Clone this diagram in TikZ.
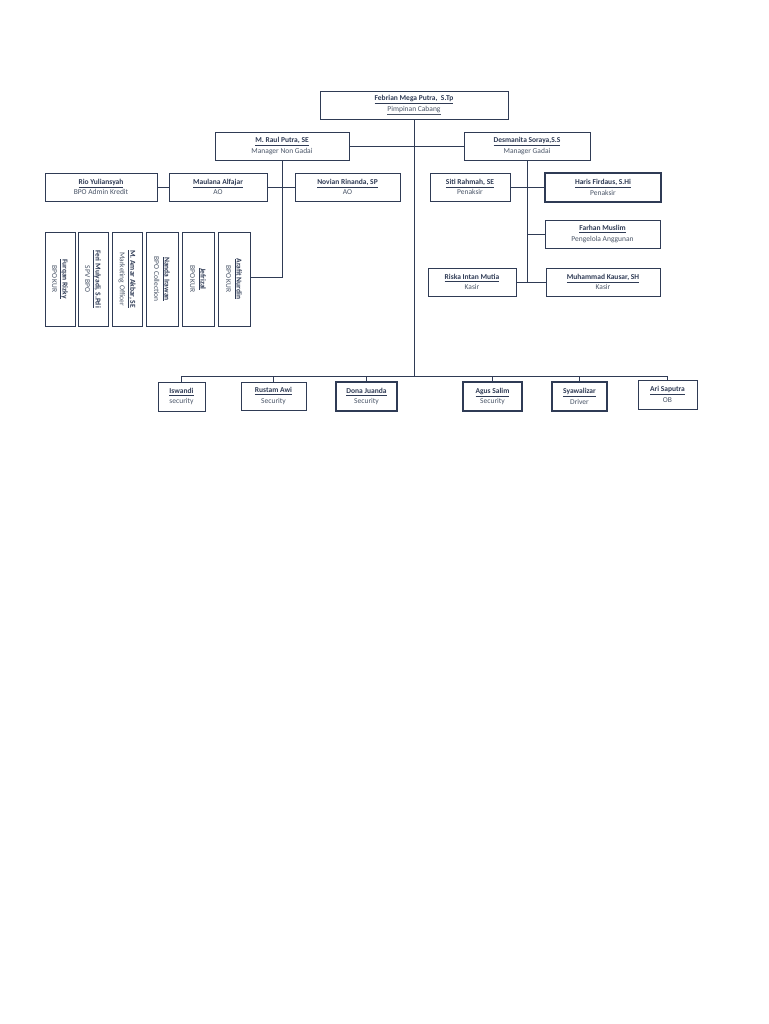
\documentclass[tikz,border=0pt]{standalone}
\usepackage{fontspec}
\setmainfont{Carlito}
\usetikzlibrary{positioning}
\definecolor{navy}{HTML}{2F3B55}
\definecolor{rolegray}{HTML}{4A5568}
\newcommand{\nm}[1]{\textbf{\underline{#1}}}
\begin{document}
\begin{tikzpicture}[x=1pt,y=-1pt,thin,
  box/.style={draw=navy, line width=0.9pt, fill=white, align=center, inner sep=1pt,
    text=navy, font=\fontsize{7.5}{10.5}\selectfont},
  vbox/.style={box, rotate=-90, minimum width=94, minimum height=30},
  link/.style={draw=navy, line width=0.9pt}]

\useasboundingbox (0,0) rectangle (768,1024);

% lines
\draw[link] (414,119) -- (414,376);
\draw[link] (349,146) -- (464,146);
\draw[link] (282,160) -- (282,277) -- (250,277);
\draw[link] (267,187) -- (295,187);
\draw[link] (157,187) -- (169,187);
\draw[link] (527,160) -- (527,282);
\draw[link] (510,187) -- (545,187);
\draw[link] (527,234) -- (545,234);
\draw[link] (516,282) -- (546,282);
\draw[link] (181,382) -- (181,376) -- (667,376) -- (667,380);
\foreach \xx in {273,366,492,579} \draw[link] (\xx,376) -- (\xx,382);

% top
\node[box, minimum width=188, minimum height=28] (pimpinan) at (414,105) {\nm{Febrian Mega Putra,\ \ S.Tp}\\{\color{rolegray}\underline{Pimpinan Cabang}}};
\node[box, minimum width=134, minimum height=28] (nongadai) at (282,146) {\nm{M. Raul Putra, SE}\\{\color{rolegray}Manager Non Gadai}};
\node[box, minimum width=126, minimum height=28] (gadai) at (527,146) {\nm{Desmanita Soraya,S.S}\\{\color{rolegray}Manager Gadai}};

% non gadai
\node[box, minimum width=112, minimum height=28] (rio) at (101,187) {\nm{Rio Yuliansyah}\\{\color{rolegray}BPO Admin Kredit}};
\node[box, minimum width=98, minimum height=28] (maulana) at (218,187) {\nm{Maulana Alfajar}\\{\color{rolegray}AO}};
\node[box, minimum width=105, minimum height=28] (novian) at (347.5,187) {\nm{Novian Rinanda, SP}\\{\color{rolegray}AO}};

\node[vbox] (furqan) at (60,279) {\nm{Furqan Rizky}\\{\color{rolegray}BPO KUR}};
\node[vbox] (feri) at (93,279) {\nm{Feri Mulyadi, S.Pdi}\\{\color{rolegray}SPV BPO}};
\node[vbox, minimum height=30] (amar) at (127,279) {\nm{M. Amar Akbar, SE}\\{\color{rolegray}Marketing Officer}};
\node[vbox, minimum height=32] (nanda) at (162,279) {\nm{Nanda Irawan}\\{\color{rolegray}BPO Collection}};
\node[vbox, minimum height=32] (jefrizal) at (198,279) {\nm{Jefrizal}\\{\color{rolegray}BPO KUR}};
\node[vbox, minimum height=32] (arafit) at (234,279) {\nm{Arafit Nurdin}\\{\color{rolegray}BPO KUR}};

% gadai
\node[box, minimum width=80, minimum height=28] (siti) at (470,187) {\nm{Siti Rahmah, SE}\\{\color{rolegray}Penaksir}};
\node[box, minimum width=116, minimum height=29, line width=1.3pt] (haris) at (603,187.5) {\nm{Haris Firdaus, S.Hi}\\{\color{rolegray}Penaksir}};
\node[box, minimum width=115, minimum height=28] (farhan) at (602.5,234) {\nm{Farhan Muslim}\\{\color{rolegray}Pengelola Anggunan}};
\node[box, minimum width=88, minimum height=28] (riska) at (472,282) {\nm{Riska Intan Mutia}\\{\color{rolegray}Kasir}};
\node[box, minimum width=114, minimum height=28] (kausar) at (603,282) {\nm{Muhammad Kausar, SH}\\{\color{rolegray}Kasir}};

% bottom
\node[box, minimum width=47, minimum height=29] (iswandi) at (181.5,396.5) {\nm{Iswandi}\\{\color{rolegray}security}};
\node[box, minimum width=65, minimum height=28] (rustam) at (273.5,396) {\nm{Rustam Awi}\\{\color{rolegray}Security}};
\node[box, minimum width=61, minimum height=29, line width=1.3pt] (dona) at (366.5,396.5) {\nm{Dona Juanda}\\{\color{rolegray}Security}};
\node[box, minimum width=59, minimum height=29, line width=1.3pt] (agus) at (492.5,396.5) {\nm{Agus Salim}\\{\color{rolegray}Security}};
\node[box, minimum width=55, minimum height=29, line width=1.3pt] (syawal) at (579.5,396.5) {\nm{Syawalizar}\\{\color{rolegray}Driver}};
\node[box, minimum width=59, minimum height=29] (ari) at (667.5,394.5) {\nm{Ari Saputra}\\{\color{rolegray}OB}};

\end{tikzpicture}
\end{document}
